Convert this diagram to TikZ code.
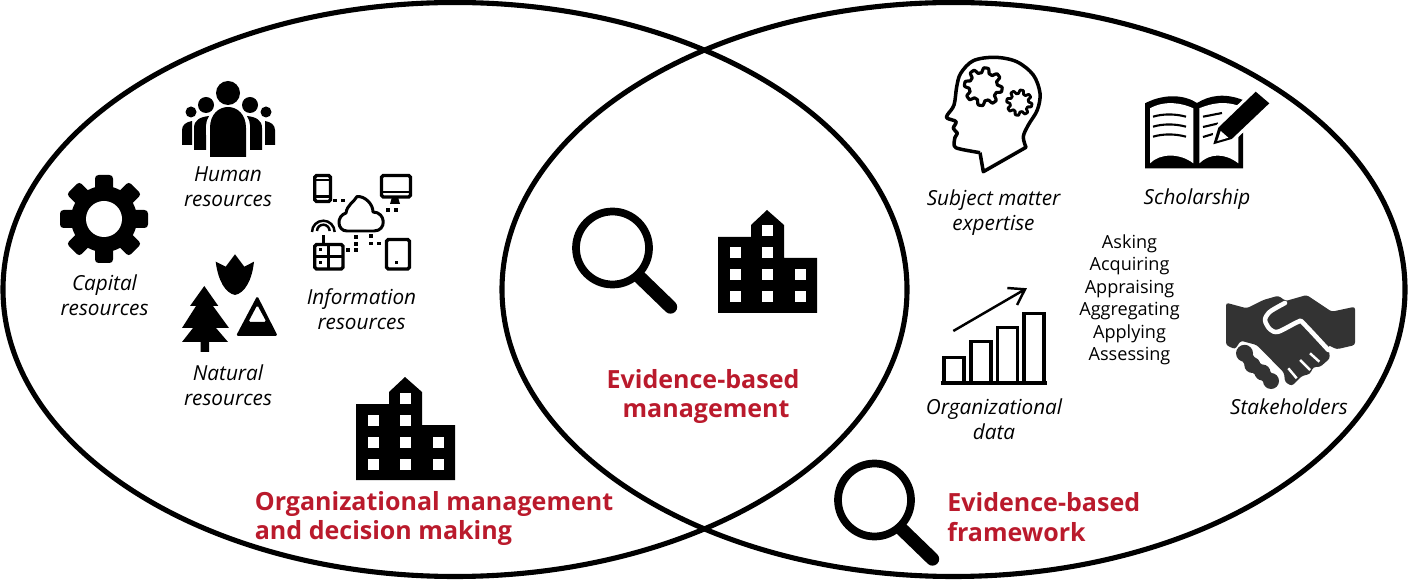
\documentclass[tikz,border=0pt]{standalone}
\usepackage{fontspec}
\setmainfont{Open Sans}
\usepackage{xcolor}
\definecolor{headred}{RGB}{186,26,44}
\definecolor{shakegray}{RGB}{51,51,51}
\usetikzlibrary{patterns, calc}
\tikzset{
  reslabel/.style={font=\fontsize{11.8}{14.2}\selectfont\itshape, align=center, inner sep=0pt},
  listlabel/.style={font=\fontsize{10.3}{12.8}\selectfont, align=center, inner sep=0pt},
  headlabel/.style={font=\fontsize{14.25}{17}\selectfont\bfseries, text=headred, inner sep=0pt},
  setline/.style={line width=2.9pt},
  pics/lens/.style={code={
    \draw[line width=4.4pt] (0,0) circle (36.5);
    \draw[line width=7.6pt, line cap=round] (27,29)--(58,59);
  }},
  pics/block/.style={code={
    \fill (0,0)--(0,-76)--(33,-76)--(33,-88)--(49,-103)--(66,-88)--(66,-55)--(99,-55)--(99,0)--cycle;
    \foreach \wx/\wy in {17/-60,17/-38,17/-16,49/-82,49/-60,49/-38,49/-16,82/-38,82/-16}
      \fill[white] (\wx-5.5,\wy-5.5) rectangle (\wx+5.5,\wy+5.5);
  }}
}

\begin{document}
\begin{tikzpicture}[x=.02cm,y=-.02cm]
\useasboundingbox (0,0) rectangle (1408,580);
\draw[setline] (455,289.5) ellipse (452 and 287);
\draw[setline] (953.5,289.5) ellipse (451.5 and 287);
% lens and block
\pic at (612.5,248) {lens};
\pic at (874.5,500) {lens};
\pic at (718,313) {block};
\pic at (356,480) {block};
% capital
\foreach \a in {0,45,...,315}
  \fill[rotate around={\a:(104,219)}, rounded corners=2pt] (95,175) rectangle (113,200);
\fill (104,219) circle (33);
\fill[white] (104,219) circle (18);
% people
\fill (228,93) circle (12);
\fill (206,105) circle (8) (250,105) circle (8) (191,112) circle (5.5) (266,112) circle (5.5);
\fill (210,157)--(210,128) .. controls (210,100) and (246,100) .. (246,128)--(246,157)--cycle;
\fill (194,150)--(194,128) .. controls (194,120) and (200,117) .. (209,116) .. controls (205,122) and (206,128) .. (206,135)--(206,150)--cycle;
\fill (262,150)--(262,128) .. controls (262,120) and (256,117) .. (247,116) .. controls (251,122) and (250,128) .. (250,135)--(250,150)--cycle;
\fill (182,145)--(182,130) .. controls (182,125) and (186,122) .. (192,121)--(192,145)--cycle;
\fill (275,145)--(275,130) .. controls (275,125) and (271,122) .. (265,121)--(265,145)--cycle;
% natural
\fill (215.7,261.7)--(225.7,266.7)--(235,254.3)--(244.3,266.7)--(254,261.7) .. controls (252,280) and (245,293) .. (235,295) .. controls (225,293) and (218,280) .. (215.7,261.7)--cycle;
\fill (204.3,286)--(218.3,306)--(213,306)--(229,328)--(216,328)--(228,342)--(209,342)--(209,352)--(200.7,352)--(200.7,342)--(182,342)--(193,328)--(182,328)--(196,306)--(190,306)--cycle;
\fill[even odd rule, rounded corners=1pt] (257.3,295.7)--(277.7,336)--(236,336)--cycle (257.3,305)--(248.3,322)--(266.5,322)--cycle;
% information
\draw[line width=1.9pt, rounded corners=1pt] (314.8,175.5) rectangle (330.5,201.5);
\draw[line width=1.5pt] (314.8,180)--(330.5,180) (314.8,196.5)--(330.5,196.5);
\draw[line width=1.9pt, rounded corners=1pt] (381.5,175.5) rectangle (410.5,197);
\draw[line width=1.5pt] (381.5,192)--(410.5,192);
\fill (390,204)--(392,197)--(398,197)--(400,204)--cycle;
\draw[line width=1.9pt, rounded corners=1pt] (314.8,244.5) rectangle (343,269);
\draw[line width=1.5pt] (328.7,244.5)--(328.7,269) (314.8,256.7)--(343,256.7);
\draw[line width=1.9pt, rounded corners=1pt] (386.5,239.5) rectangle (409.5,269);
\draw[line width=1.5pt] (323.3,244)--(323.3,235);
\draw[line width=1.4pt] (317,231) arc (180:360:6.3);
\draw[line width=1.4pt] (312,232) arc (180:360:11.3);
\draw[line width=1.7pt, line join=round] (347,231) .. controls (337,231) and (336,216) .. (346,213) .. controls (347,205) and (354,202) .. (357,196.5) .. controls (365,196) and (373,204) .. (373,212) .. controls (386,212) and (387,231) .. (374,231)--cycle;
\foreach \dx/\dy in {335/200.7,343/200.7,388/210,396/210,356/237,356/244,356/250,348/250,371/236,371/243.5,379/243.5,320.7/249.3,320.7/262.3,396.7/262.3}
  \fill (\dx-1.7,\dy-1.7) rectangle (\dx+1.7,\dy+1.7);
% subject matter
\draw[line width=2pt, line join=round] plot[smooth, tension=.55] coordinates {(980,152.7) (960,149) (954.3,146) (955,137.3) (957.3,133.3) (953.3,128.3) (956,121.7) (947.3,118.3) (947.3,115) (954,105) (956.7,86.7) (960.7,73.3) (973.3,60.7) (995,57.3) (1016.7,61.7) (1033.3,75) (1040,93.3) (1037.3,110) (1028.3,125) (1023.3,136.7) (1026,147.3)}--(983.3,171.7)--(980,152.7);
\draw[line width=1.8pt, line join=round] plot[domain=0:360, samples=145] ({983.3+(16.5+2.4*max(-1,min(1,2*sin(8*\x+20))))*cos(\x)},{86.7+(16.5+2.4*max(-1,min(1,2*sin(8*\x+20))))*sin(\x)})--cycle;
\draw[line width=1.6pt, line join=round] plot[domain=0:360, samples=145] ({1019.3+(11+1.7*max(-1,min(1,2*sin(8*\x))))*cos(\x)},{102.7+(11+1.7*max(-1,min(1,2*sin(8*\x))))*sin(\x)})--cycle;
% scholarship
\fill (1145,103.3) .. controls (1165,93) and (1185,95) .. (1197,103) .. controls (1210,95) and (1225,93) .. (1243,100)--(1243,168.3)--(1145,168.3)--cycle;
\fill[white] (1150,108.3) .. controls (1165,100) and (1182,103) .. (1193.3,108.3)--(1193.3,163.3) .. controls (1180,153) and (1160,153) .. (1150,163.3)--cycle;
\fill[white] (1199.3,108.3) .. controls (1212,103) and (1225,101) .. (1238.3,105.7)--(1238.3,163.3) .. controls (1225,153) and (1210,153) .. (1199.3,163.3)--cycle;
\foreach \ly in {116.7,126.7,136.7}
  \draw[line width=1.2pt] (1153,\ly) .. controls (1163,\ly-3) and (1175,\ly-3) .. (1186,\ly);
\draw[line width=1.2pt] (1203,116.7)--(1222,113) (1203,127)--(1218,123.5) (1203,137)--(1213,134);
\draw[white, line width=3.5pt, line join=round] (1213.3,144.3)--(1218.3,127.7)--(1255.7,91.7)--(1269.3,103.3)--(1231.7,139)--cycle;
\fill (1213.3,144.3)--(1218.3,127.7)--(1255.7,91.7)--(1269.3,103.3)--(1231.7,139)--cycle;
\fill[white] (1217.3,141)--(1220.7,131)--(1228.3,137.7)--cycle;
% data
\draw[line width=1.8pt] (944,382.7)--(944,357.7)--(964,357.7)--(964,382.7) (971,382.7)--(971,341.7)--(991,341.7)--(991,382.7) (997.7,382.7)--(997.7,327.3)--(1017.7,327.3)--(1017.7,382.7) (1024,382.7)--(1024,313.3)--(1044,313.3)--(1044,382.7);
\draw[line width=2.1pt] (940.7,382.7)--(1046.7,382.7);
\draw[line width=1.4pt] (953.3,331)--(1025,289.3) (1007.3,288)--(1025,289.3)--(1017,305);
% stakeholders
\fill[shakegray, rounded corners=1.5pt] (1226,302.7)--(1246.7,308.3)--(1263.3,300)--(1278.3,295.7)--(1285.7,301)--(1306.7,295)--(1331.7,311.7)--(1355,306.7)--(1355,345)--(1336.7,349.3)--(1328,345)--(1330,358.3)--(1320,367)--(1313.3,367)--(1310,374)--(1301.7,376)--(1297,381)--(1291.7,386)--(1285,382)--(1284,372.7)--(1256.7,345)--(1240.7,340.7)--(1235,349.3)--(1226,345)--cycle;
\fill[shakegray] (1244.5,353.3) circle (8.5) (1252.3,365) circle (8) (1262.5,372.5) circle (8) (1271,381) circle (8);
\draw[shakegray, line width=7pt] (1244.5,353.3)--(1252.3,365)--(1262.5,372.5)--(1271,381);
\draw[white, line width=2.6pt, line cap=round, line join=round] plot[smooth, tension=.5] coordinates {(1285,303) (1270,311.7) (1265,320) (1270,329.3) (1278.3,331.7) (1298.3,321.7) (1303.3,323.3) (1328.3,350)};
\draw[white, line width=1.4pt] (1288.3,368.3)--(1296.7,378.3) (1300,360)--(1310,370) (1310,353.3)--(1319.3,361.7);
% labels
\node[reslabel] (humanres) at (228,186.5) {Human\\resources};
\node[reslabel] (capitalres) at (104.5,295) {Capital\\resources};
\node[reslabel] (infores) at (361.5,309) {Information\\resources};
\node[reslabel] (naturalres) at (228,385.5) {Natural\\resources};
\node[reslabel] (subjectexp) at (993.5,212.5) {Subject matter\\expertise};
\node[reslabel] (scholar) at (1197,199.5) {Scholarship};
\node[reslabel] (orgdata) at (994,419) {Organizational\\data};
\node[reslabel] (stakehold) at (1289,407) {Stakeholders};
\node[listlabel] (steps) at (1129.5,300) {Asking\\Acquiring\\Appraising\\Aggregating\\Applying\\Assessing};
\node[headlabel, align=center] (ebm) at (703,396.5) {Evidence-based\\\hspace*{3.5pt}management};
\node[headlabel, align=left, anchor=west] (orgmgmt) at (254.5,518.5) {Organizational management\\and decision making};
\node[headlabel, align=left, anchor=west] (ebf) at (947,517) {Evidence-based\\framework};
\end{tikzpicture}
\end{document}
